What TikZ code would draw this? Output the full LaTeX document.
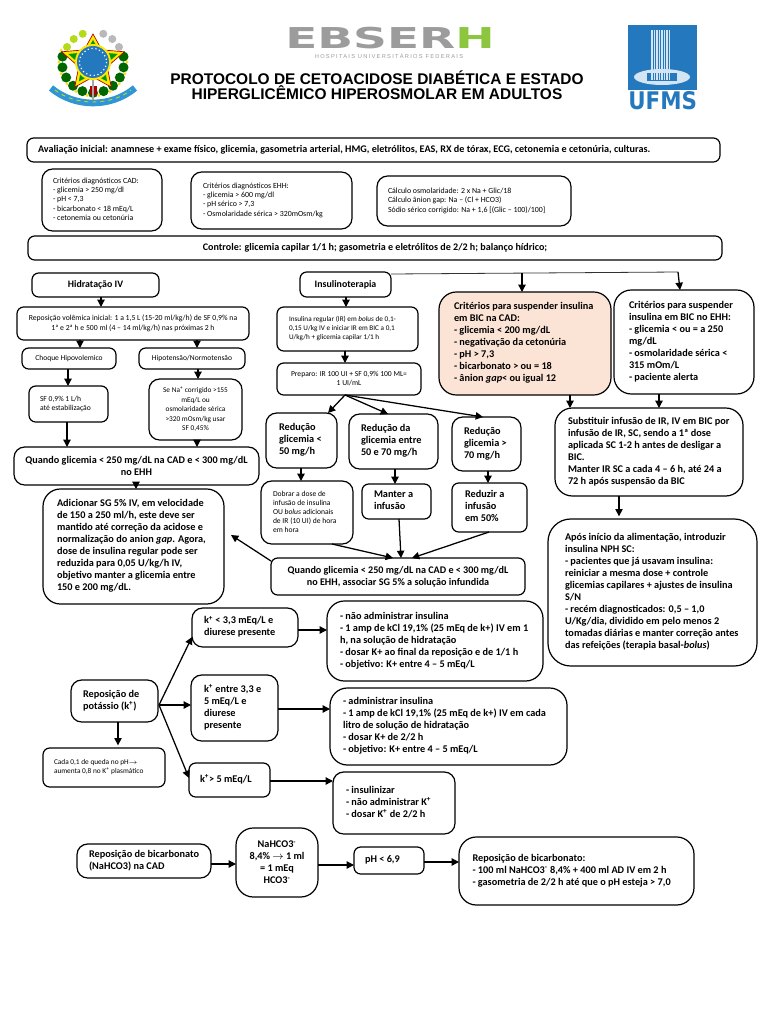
\documentclass[tikz,border=0pt]{standalone}
\usepackage{fontspec}
\usepackage{graphicx}
\setmainfont{Carlito}
\newfontfamily\arialf{Liberation Sans}
\newfontfamily\heavyf{DejaVu Sans}
\newfontfamily\spacedf[LetterSpace=22]{Liberation Sans}
\usetikzlibrary{arrows.meta}
\definecolor{peach}{HTML}{FBE4D5}
\definecolor{ebgray}{HTML}{9C9C9C}
\definecolor{ebgreen}{HTML}{8CC63F}
\definecolor{ufblue}{HTML}{2478BE}
\definecolor{ribbon}{HTML}{2F95D6}
\newcommand\bx[7][]{\node[boxx,minimum width={(#5-#3)*0.75pt},minimum height={(#6-#4)*0.75pt},#1] (#2) at ({(#3+#5)/2},{(#4+#6)/2}) {#7};}
\newcommand\lx[8][]{\node[boxx,minimum width={(#5-#3)*0.75pt},minimum height={(#6-#4)*0.75pt},#1] (#2) at ({(#3+#5)/2},{(#4+#6)/2}) {\makebox[\dimexpr(#5pt-#3pt)*3/4\relax][l]{\hspace*{\dimexpr #7pt*3/4\relax}\begin{tabular}{@{}l@{}}#8\end{tabular}}};}
\newcommand\vc[3]{\coordinate (tmpv) at (#2,0); \draw[arr] (#1.south -| tmpv) -- (#3.north -| tmpv);}
\newcommand\hc[3]{\coordinate (tmph) at (0,#2); \draw[arr] (#1.east |- tmph) -- (#3.west |- tmph);}
\begin{document}
\begin{tikzpicture}[x=0.75pt,y=-0.75pt,
  boxx/.style={draw=black,line width=0.9pt,rounded corners=5pt,inner sep=0pt,outer sep=0pt,align=left,fill=white},
  big/.style={rounded corners=13pt},
  mid/.style={rounded corners=8pt},
  ctr/.style={align=center},
  fa/.style={font=\fontsize{5.7}{6.8}\selectfont},
  fb/.style={font=\fontsize{5.9}{6.9}\selectfont},
  fc/.style={font=\bfseries\fontsize{7.7}{9}\selectfont},
  fd/.style={font=\bfseries\fontsize{7.4}{8}\selectfont},
  arr/.style={draw=black,line width=0.95pt,-{Triangle[length=5.5pt,width=5.5pt]}},
  leaf/.style={shift={(93,62)}}]
\useasboundingbox (0,0) rectangle (768,1024);
\fill[white] (0,0) rectangle (768,1024);
% coat of arms
\foreach \a in {10,30,...,90}{\fill[green!40!black,leaf] (\a-20:31) circle (5);\fill[yellow!80!orange,leaf] (\a-10:34) circle (1.6);}
\foreach \a in {90,110,...,190}{\fill[green!40!black,leaf] (\a:31) circle (5);\fill[yellow!80!orange,leaf] (\a+10:34) circle (1.6);}
\foreach \a in {-70,-50,-30}{\fill[gray!55,leaf] (\a:30) circle (4);}
\foreach \a in {-110,-130,-150}{\fill[yellow!70!green,leaf] (\a:30) circle (4);}
\fill[yellow!90!orange,draw=red!70!black,line width=0.5pt,leaf] (-90:28)--(-54:15)--(-18:33)--(18:15)--(54:31)--(90:15)--(126:31)--(162:15)--(198:33)--(234:15)--cycle;
\fill[green!60!black,leaf] (-90:22)--(-54:12)--(-18:26)--(18:12)--(54:24)--(90:12)--(126:24)--(162:12)--(198:26)--(234:12)--cycle;
\fill[yellow!90!orange,leaf] (0,0) circle (18);
\fill[ufblue,leaf] (0,0) circle (16);
\draw[white,line width=0.9pt,dotted,leaf] (0,0) circle (13.5);
\draw[ribbon,line width=5pt,leaf] (-42,26) .. controls (-18,46) and (18,46) .. (42,26);
\draw[yellow!70!green,line width=0.7pt,dashed,leaf] (-38,28) .. controls (-18,44) and (18,44) .. (38,28);
\fill[red!70!black,leaf] (-3.5,24) rectangle (3.5,33);
\fill[gray!70,leaf] (-1.2,18) rectangle (1.2,38);
% EBSERH
\node[inner sep=0pt,anchor=north west] (ebl) at (285,27) {\resizebox{157pt}{16pt}{\heavyf\bfseries\textcolor{ebgray}{EBSER}\textcolor{ebgreen}{H}}};
\node[inner sep=0pt,text=ebgray,font=\spacedf\fontsize{4.3}{4.3}\selectfont] (ebs) at (389,56.5) {HOSPITAIS UNIVERSITÁRIOS FEDERAIS};
% UFMS
\fill[ufblue] (628,25) rectangle (697,90);
\foreach \x in {652,654.5,...,670}{\draw[white!80!ufblue,line width=0.9pt] (\x,30) -- (\x,72);}
\fill[white!80!ufblue] (662,77) ellipse (28 and 8);
\fill[ufblue] (647,73) rectangle (677,81);
\foreach \x in {652,654.5,...,670}{\draw[white!80!ufblue,line width=0.9pt] (\x,70) -- (\x,80);}
\node[inner sep=0pt,anchor=north west] (ufl) at (628,91) {\resizebox{51.5pt}{13.5pt}{\heavyf\bfseries\textcolor{ufblue}{UFMS}}};
% title
\node[align=center,inner sep=0pt,font=\arialf\bfseries\fontsize{11.6}{11.5}\selectfont] (ttl) at (377,85.5) {PROTOCOLO DE CETOACIDOSE DIABÉTICA E ESTADO\\HIPERGLICÊMICO HIPEROSMOLAR EM ADULTOS};
% upper boxes
\lx[font=\bfseries\fontsize{7.6}{9}\selectfont]{aval}{27}{138}{720}{162}{11}{Avaliação inicial: anamnese + exame físico, glicemia, gasometria arterial, HMG, eletrólitos, EAS, RX de tórax, ECG, cetonemia e cetonúria, culturas.}
\lx[mid,fb]{cad}{42}{169}{162}{231}{11}{Critérios diagnósticos CAD:\\- glicemia > 250 mg/dl\\- pH < 7,3\\- bicarbonato < 18 mEq/L\\- cetonemia ou cetonúria}
\lx[mid,fb]{ehh}{191}{172}{352}{229}{12}{Critérios diagnósticos EHH:\\- glicemia > 600 mg/dl\\- pH sérico > 7,3\\- Osmolaridade sérica > 320mOsm/kg}
\lx[mid,fb]{calc}{377}{176}{571}{226}{11}{Cálculo osmolaridade: 2 x Na + Glic/18\\Cálculo ânion gap: Na – (Cl + HCO3)\\Sódio sérico corrigido: Na + 1,6 [(Glic – 100)/100]}
\bx[ctr,font=\bfseries\fontsize{7.55}{9}\selectfont]{ctrl}{28}{236}{722}{260}{Controle: glicemia capilar 1/1 h; gasometria e eletrólitos de 2/2 h; balanço hídrico;}
% hydration column
\bx[ctr,fd]{hid}{32}{273}{159}{297}{Hidratação IV}
\bx[ctr,font=\fontsize{5.8}{8}\selectfont]{rep}{17}{307}{249}{340}{Reposição volêmica inicial: 1 a 1,5 L (15-20 ml/kg/h) de SF 0,9\% na\\1ª e 2ª h e 500 ml (4 – 14 ml/kg/h) nas próximas 2 h}
\bx[ctr,font=\fontsize{5.65}{7}\selectfont]{cho}{22}{348}{116}{369}{Choque Hipovolemico}
\bx[ctr,font=\fontsize{5.65}{7}\selectfont]{hip}{139}{348}{245}{369}{Hipotensão/Normotensão}
\lx[fa]{sf}{29}{386}{108}{422}{11}{SF 0,9\% 1 L/h\\até estabilização}
\bx[mid,ctr,font=\fontsize{5.5}{7.2}\selectfont]{sena}{149}{379}{242}{440}{Se Na\textsuperscript{+} corrigido >155\\mEq/L ou\\osmolaridade sérica\\>320 mOsm/kg usar\\SF 0,45\%}
\bx[mid,ctr,font=\bfseries\fontsize{7.65}{9.4}\selectfont]{qd}{14}{447}{259}{485}{Quando glicemia < 250 mg/dL na CAD e < 300 mg/dL\\no EHH}
\lx[big,fc]{adi}{43}{489}{224}{604}{14}{Adicionar SG 5\% IV, em velocidade\\de 150 a 250 ml/h, este deve ser\\mantido até correção da acidose e\\normalização do anion \textit{gap}. Agora,\\dose de insulina regular pode ser\\reduzida para 0,05 U/kg/h IV,\\objetivo manter a glicemia entre\\150 e 200 mg/dL.}
% insulin column
\bx[ctr,fd]{ins}{300}{272}{391}{297}{Insulinoterapia}
\lx[font=\fontsize{5.4}{6.8}\selectfont]{reg}{277}{307}{418}{351}{12}{Insulina regular (IR) em \textit{bolus} de 0,1-\\0,15 U/kg IV e iniciar IR em BIC a 0,1\\U/kg/h + glicemia capilar 1/1 h}
\bx[ctr,fa]{pre}{277}{363}{421}{395}{Preparo: IR 100 UI + SF 0,9\% 100 ML=\\1 UI/mL}
\lx[mid,fc]{ra}{266}{413}{337}{468}{13}{Redução\\glicemia <\\50 mg/h}
\lx[mid,fc]{rb}{349}{414}{438}{469}{12}{Redução da\\glicemia entre\\50 e 70 mg/h}
\lx[mid,fc]{rc}{452}{417}{521}{471}{12}{Redução\\glicemia >\\70 mg/h}
\lx[mid,fa]{dob}{261}{481}{353}{544}{12}{Dobrar a dose de\\infusão de insulina\\OU \textit{bolus} adicionais\\de IR (10 UI) de hora\\em hora}
\lx[fc]{man}{362}{484}{431}{519}{12}{Manter a\\infusão}
\lx[fc]{red}{452}{483}{527}{532}{13}{Reduzir a\\infusão\\em 50\%}
\bx[ctr,font=\bfseries\fontsize{7.6}{9.2}\selectfont]{qs}{271}{558}{525}{595}{Quando glicemia < 250 mg/dL na CAD e < 300 mg/dL\\no EHH, associar SG 5\% a solução infundida}
% criteria
\lx[big,fc,fill=peach]{ccad}{439}{292}{611}{395}{15}{Critérios para suspender insulina\\em BIC na CAD:\\- glicemia < 200 mg/dL\\- negativação da cetonúria\\- pH > 7,3\\- bicarbonato > ou = 18\\- ânion \textit{gap}< ou igual 12}
\lx[big,fc]{cehh}{614}{290}{754}{394}{15}{Critérios para suspender\\insulina em BIC no EHH:\\- glicemia < ou = a 250\\mg/dL\\- osmolaridade sérica <\\315 mOm/L\\- paciente alerta}
\lx[big,fc]{sub}{555}{408}{743}{496}{13}{Substituir infusão de IR, IV em BIC por\\infusão de IR, SC, sendo a 1ª dose\\aplicada SC 1-2 h antes de desligar a\\BIC.\\Manter IR SC a cada 4 – 6 h, até 24 a\\72 h após suspensão da BIC}
\lx[rounded corners=17pt,fc]{apo}{548}{519}{757}{666}{17}{Após início da alimentação, introduzir\\insulina NPH SC:\\- pacientes que já usavam insulina:\\reiniciar a mesma dose + controle\\glicemias capilares + ajustes de insulina\\S/N\\- recém diagnosticados: 0,5 – 1,0\\U/Kg/dia, dividido em pelo menos 2\\tomadas diárias e manter correção antes\\das refeições (terapia basal-\textit{bolus})}
% potassium
\lx[mid,fc]{pot}{71}{680}{158}{722}{12}{Reposição de\\potássio (k\textsuperscript{+})}
\lx[font=\fontsize{5.5}{6.5}\selectfont]{cada}{43}{748}{165}{787}{11}{Cada 0,1 de queda no pH$\rightarrow$\\aumenta 0,8 no K\textsuperscript{+} plasmático}
\lx[mid,fc]{ka}{192}{608}{298}{647}{12}{k\textsuperscript{+} < 3,3 mEq/L e\\diurese presente}
\lx[mid,fc]{kb}{191}{675}{278}{741}{13}{k\textsuperscript{+} entre 3,3 e\\5 mEq/L e\\diurese\\presente}
\lx[fc]{kc}{189}{763}{270}{797}{11}{k\textsuperscript{+}> 5 mEq/L}
\lx[big,fc]{ta}{327}{601}{543}{681}{13}{- não administrar insulina\\- 1 amp de kCl 19,1\% (25 mEq de k+) IV em 1\\h, na solução de hidratação\\- dosar K+ ao final da reposição e de 1/1 h\\- objetivo: K+ entre 4 – 5 mEq/L}
\lx[big,fc]{tb}{330}{688}{567}{765}{13}{- administrar insulina\\- 1 amp de kCl 19,1\% (25 mEq de k+) IV em cada\\litro de solução de hidratação\\- dosar K+ de 2/2 h\\- objetivo: K+ entre 4 – 5 mEq/L}
\lx[mid,fc]{tc}{333}{772}{455}{834}{13}{- insulinizar\\- não administrar K\textsuperscript{+}\\- dosar K\textsuperscript{+} de 2/2 h}
% bicarbonate
\lx[mid,fc]{bic}{77}{844}{211}{878}{12}{Reposição de bicarbonato\\(NaHCO3) na CAD}
\bx[big,ctr,fc]{nah}{236}{828}{318}{897}{NaHCO3\textsuperscript{-}\\8,4\% $\rightarrow$ 1 ml\\= 1 mEq\\HCO3\textsuperscript{-}}
\lx[fc]{ph}{354}{847}{424}{874}{11}{pH < 6,9}
\lx[big,fc]{tbic}{459}{837}{694}{905}{13.5}{Reposição de bicarbonato:\\- 100 ml NaHCO3\textsuperscript{-} 8,4\% + 400 ml AD IV em 2 h\\- gasometria de 2/2 h até que o pH esteja > 7,0}
% connectors
\vc{hid}{101}{rep}
\vc{rep}{80}{cho}
\vc{rep}{197}{hip}
\vc{cho}{68}{sf}
\vc{hip}{198}{sena}
\vc{sf}{67}{qd}
\vc{sena}{197}{qd}
\vc{qd}{136}{adi}
\vc{ins}{346}{reg}
\vc{reg}{345}{pre}
\coordinate (fan) at (345,395);
\draw[arr] (pre.south -| fan) -- (ra.north -| 328,0);
\draw[arr] (pre.south -| fan) -- (rb.north -| 388,0);
\draw[arr] (pre.south -| fan) -- (rc.north -| 483,0);
\vc{ra}{301}{dob}
\vc{rb}{395}{man}
\vc{rc}{488}{red}
\draw[arr] (dob.south -| 332,0) -- (qs.north -| 393,0);
\draw[arr] (man.south -| 399,0) -- (qs.north -| 401,0);
\draw[arr] (red.south -| 489,0) -- (qs.north -| 412,0);
\coordinate (qsl) at (231,535);
\draw[arr] (qs.west |- 0,561) -- (qsl);
\coordinate (cjoin) at (678,272);
\coordinate (cjt) at (522,273);
\draw[line width=0.6pt,black!80] (ins.east |- 0,274) -- (cjoin);
\draw[arr] (cjt) -- (ccad.north -| cjt);
\draw[arr] (cjoin) -- (cehh.north -| 680,0);
\vc{ccad}{570}{sub}
\vc{cehh}{659}{sub}
\coordinate (apt) at (619,0);
\draw[arr,shorten >=2pt] (sub.south -| apt) -- (apo.north -| apt);
\coordinate (pk) at (159,705);
\draw[arr] (pk) -- (ka.west |- 0,637);
\draw[arr] (pk) -- (kb.west |- pk);
\draw[arr] (pk) -- (kc.west |- 0,778);
\coordinate (ptt) at (118,0);
\draw[arr,shorten >=2pt] (pot.south -| ptt) -- (cada.north -| ptt);
\hc{ka}{630}{ta}
\hc{kb}{709}{tb}
\hc{kc}{781}{tc}
\hc{bic}{864}{nah}
\hc{nah}{865}{ph}
\hc{ph}{862}{tbic}
\end{tikzpicture}
\end{document}
